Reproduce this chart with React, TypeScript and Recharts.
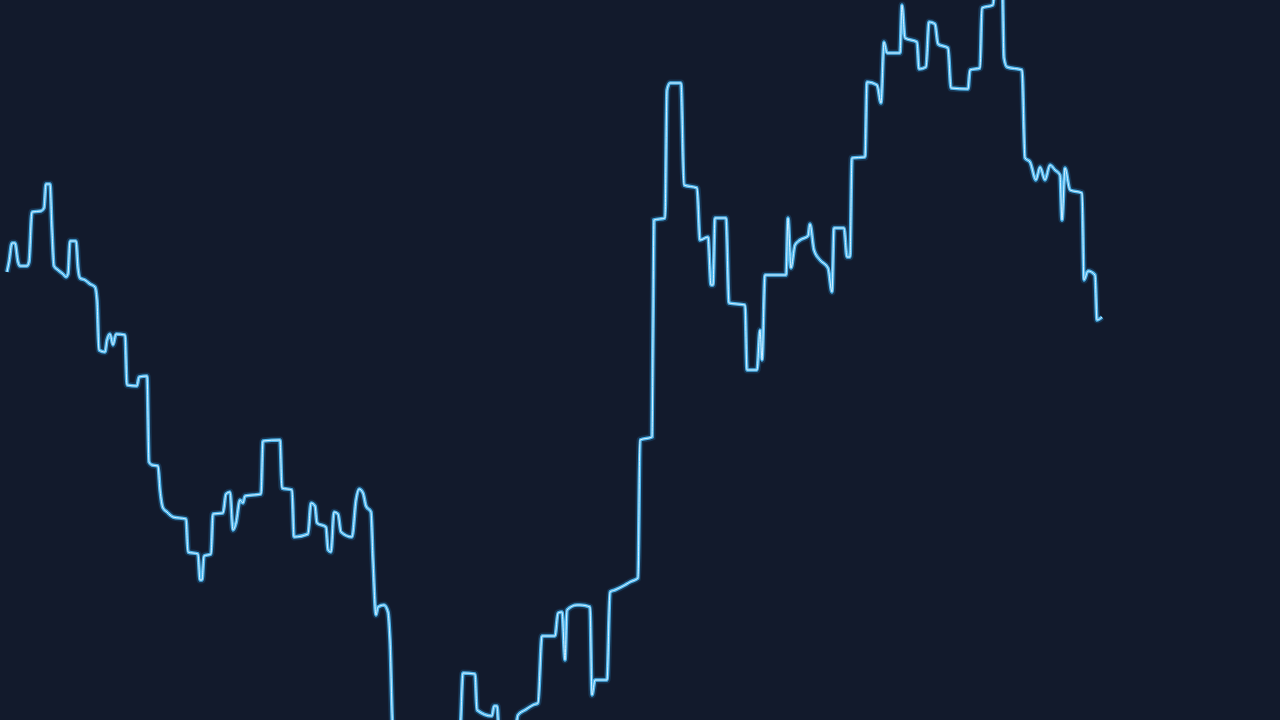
import { LineChart, Line, XAxis, YAxis } from "recharts";

// horizontal position of each sample (time axis, 0..1280)
const timeIdx = [
  7, 9, 12, 15, 18, 20, 27, 29, 32, 41, 44, 46, 50, 52, 54, 58, 63, 66, 68, 70,
  76, 78, 80, 85, 90, 95, 97, 99, 105, 107, 110, 113, 116, 125, 127, 137, 139, 147, 149, 152,
  158, 160, 163, 167, 173, 186, 188, 198, 200, 202, 204, 211, 213, 223, 226, 230, 233, 236, 240, 243,
  245, 261, 263, 280, 282, 292, 294, 308, 311, 315, 317, 326, 328, 331, 334, 338, 341, 352, 356, 359,
  363, 366, 371, 373, 376, 378, 384, 388, 390, 393, 460, 463, 475, 477, 492, 494, 497, 499, 515, 518,
  525, 533, 538, 542, 555, 558, 562, 565, 567, 577, 580, 590, 592, 595, 607, 610, 615, 625, 630, 638,
  640, 652, 654, 665, 667, 670, 681, 684, 697, 700, 708, 711, 713, 715, 726, 729, 745, 747, 757, 760,
  762, 765, 786, 788, 791, 795, 800, 808, 810, 814, 820, 828, 832, 834, 844, 847, 850, 852, 865, 867,
  877, 881, 884, 887, 900, 902, 905, 917, 919, 926, 929, 935, 938, 948, 951, 968, 970, 980, 982, 993,
  996, 1002, 1004, 1007, 1022, 1025, 1030, 1036, 1040, 1045, 1050, 1055, 1060, 1062, 1065, 1070, 1082, 1084, 1088, 1095,
  1097, 1102,
];

// level (screen-down scale, axis is reversed)
const level = [
  272, 262, 243, 243, 262, 266, 266, 262, 212, 211, 208, 184, 184, 230, 266, 270, 274, 277, 274, 241,
  241, 268, 278, 280, 284, 287, 300, 350, 352, 340, 334, 345, 334, 335, 385, 386, 377, 376, 462, 465,
  466, 490, 508, 512, 517, 519, 552, 554, 580, 580, 556, 554, 514, 513, 494, 492, 530, 523, 500, 503,
  496, 494, 441, 440, 488, 490, 537, 534, 503, 506, 523, 527, 550, 552, 512, 514, 532, 537, 500, 489,
  493, 506, 512, 560, 615, 607, 605, 612, 640, 730, 730, 673, 674, 710, 716, 706, 706, 730, 730, 715,
  710, 705, 703, 636, 636, 613, 612, 660, 610, 605, 605, 607, 695, 680, 680, 592, 590, 585, 582, 578,
  440, 437, 220, 218, 90, 83, 83, 185, 188, 240, 237, 285, 285, 218, 218, 303, 305, 370, 370, 330,
  360, 275, 275, 218, 268, 245, 240, 236, 224, 250, 260, 268, 292, 228, 228, 257, 257, 158, 157, 82,
  85, 103, 42, 53, 53, 5, 38, 42, 69, 67, 22, 24, 44, 48, 88, 89, 70, 68, 8, 5,
  -30, -30, 58, 67, 70, 158, 162, 180, 167, 180, 165, 170, 175, 220, 168, 190, 193, 280, 271, 275,
  320, 317,
];

const data = timeIdx.map((t, i) => ({ t, v: level[i] }));

export default function App() {
  return (
    <div
      style={{
        position: "fixed",
        top: 0,
        left: 0,
        width: 1280,
        height: 720,
        background: "#121a2c",
        overflow: "hidden",
      }}
    >
      <LineChart
        width={1280}
        height={720}
        data={data}
        margin={{ top: 0, right: 0, bottom: 0, left: 0 }}
      >
        <XAxis dataKey="t" type="number" domain={[0, 1280]} hide />
        <YAxis type="number" domain={[0, 720]} reversed allowDataOverflow hide />
        {/* soft glow */}
        <Line
          dataKey="v"
          type="monotone"
          stroke="#2f9be0"
          strokeOpacity={0.2}
          strokeWidth={7}
          dot={false}
          activeDot={false}
          isAnimationActive={false}
        />
        <Line
          dataKey="v"
          type="monotone"
          stroke="#4cb3ea"
          strokeWidth={3.6}
          dot={false}
          activeDot={false}
          isAnimationActive={false}
        />
        <Line
          dataKey="v"
          type="monotone"
          stroke="#d9f1ff"
          strokeWidth={1}
          dot={false}
          activeDot={false}
          isAnimationActive={false}
        />
      </LineChart>
    </div>
  );
}
